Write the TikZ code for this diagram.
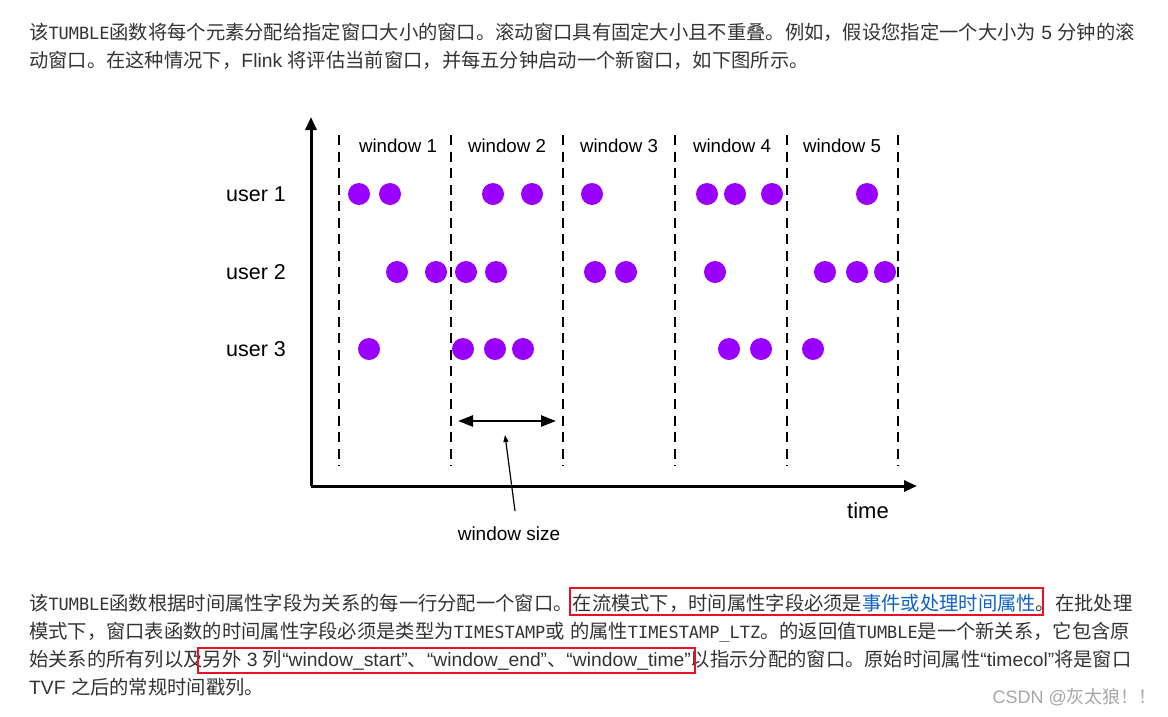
\documentclass[tikz,border=0pt]{standalone}
\usepackage{fontspec}
\setmainfont{Noto Sans CJK SC}
\newfontfamily\lafont{Liberation Sans}
\newfontfamily\monofont{DejaVu Sans Mono}
\usetikzlibrary{arrows.meta,positioning}
\definecolor{bodytext}{HTML}{333333}
\definecolor{dotpurple}{HTML}{9900FF}
\definecolor{markred}{HTML}{E81123}
\definecolor{linkblue}{HTML}{0F62C0}
\newcommand{\la}[1]{{\lafont\fontsize{19.3}{22}\selectfont #1}}
\newcommand{\mo}[1]{{\monofont\fontsize{16.9}{18}\selectfont #1}}
\tikzset{
  para/.style={anchor=base west,inner sep=0pt,text=bodytext,font=\fontsize{19.3}{22}\selectfont},
  chart/.style={inner sep=0pt,font=\lafont\fontsize{18.7}{22}\selectfont},
  event/.style={circle,fill=dotpurple,minimum size=22pt,inner sep=0pt},
  winline/.style={line width=2pt,dash pattern=on 10pt off 6.5pt},
  markbox/.style={draw=markred,line width=2pt},
  bigtip/.style={arrows={-{Stealth[length=13pt,width=11pt,inset=0pt]}}}
}

\begin{document}
\begin{tikzpicture}[x=1pt,y=-1pt,>=Stealth]
  \useasboundingbox (0,0) rectangle (1168,716);
  % Top paragraph
  \node[para] (l1) at (29,39) {该\mo{TUMBLE}函数将每个元素分配给指定窗口大小的窗口。滚动窗口具有固定大小且不重叠。例如，假设您指定一个大小为\la{ 5 }分钟的滚};
  \node[para] (l2) at (29,67) {动窗口。在这种情况下，\la{Flink }将评估当前窗口，并每五分钟启动一个新窗口，如下图所示。};
  % Windows
  \foreach \i/\x in {0/339,1/451,2/563,3/675,4/787,5/898} {
    \coordinate (top\i) at (\x,135);
    \coordinate (bot\i) at (\x,466);
    \draw[winline] (top\i) -- (bot\i);
  }
  \foreach \i/\x in {1/398,2/507,3/619,4/732,5/842} {
    \node[chart] (win\i) at (\x,146) {window \i};
  }
  % Users
  \foreach \i/\y in {1/194,2/272,3/349} {
    \node[chart,font=\lafont\fontsize{21.5}{25}\selectfont] (user\i) at (256,\y) {user \i};
  }
  % Events
  \foreach \x [count=\n] in {359,390,493,532,592,707,735,772,867} {
    \node[event] (ea\n) at (\x,194) {};
  }
  \foreach \x [count=\n] in {397,436,466,496,595,626,715,825,857,885} {
    \node[event] (eb\n) at (\x,272) {};
  }
  \foreach \x [count=\n] in {369,463,495,523,729,761,813} {
    \node[event] (ec\n) at (\x,349) {};
  }
  % Axes
  \coordinate (origin) at (311,486);
  \coordinate (ytip) at (311,117);
  \coordinate (xtip) at (917,486);
  \draw[line width=3pt,bigtip] (origin) -- (ytip);
  \draw[line width=3pt,bigtip] (origin) -- (xtip);
  \node[chart,font=\lafont\fontsize{22}{26}\selectfont] (time) at (868,511) {time};
  % Window size
  \coordinate (sizeL) at (458,421);
  \coordinate (sizeR) at (556,421);
  \draw[line width=2.5pt,arrows={{Stealth[length=15pt,width=11pt,inset=0pt]}-{Stealth[length=15pt,width=11pt,inset=0pt]}}] (sizeL) -- (sizeR);
  \node[chart,font=\lafont\fontsize{19}{22}\selectfont] (wsize) at (509,534) {window size};
  \coordinate (ptrfoot) at (515,511);
  \coordinate (ptrtip) at (505,435);
  \draw[line width=1.2pt,arrows={-{Stealth[length=7pt,width=5pt,inset=0pt]}}] (ptrfoot) -- (ptrtip);
  % Bottom paragraph
  \node[para] (l3) at (29,610) {该\mo{TUMBLE}函数根据时间属性字段为关系的每一行分配一个窗口。在流模式下，时间属性字段必须是\textcolor{linkblue}{事件或处理时间属性}。在批处理};
  \node[para] (l4) at (29,638) {模式下，窗口表函数的时间属性字段必须是类型为\mo{TIMESTAMP}或\la{ }的属性\mo{TIMESTAMP\_LTZ}。的返回值\mo{TUMBLE}是一个新关系，它包含原};
  \node[para] (l5) at (29,666) {始关系的所有列以及另外\la{ 3 }列\la{“window\_start”}、\la{“window\_end”}、\la{“window\_time”}以指示分配的窗口。原始时间属性\la{“timecol”}将是窗口};
  \node[para] (l6) at (29,694) {\la{TVF }之后的常规时间戳列。};
  % Red marks
  \node[markbox,minimum width=473pt,minimum height=27pt,inner sep=0pt] (mark1) at (806.5,601.5) {};
  \node[markbox,minimum width=497pt,minimum height=25pt,inner sep=0pt] (mark2) at (446.5,660.5) {};
  \node[anchor=base east,inner sep=0pt,text=black!35,font=\lafont\fontsize{18}{22}\selectfont] (csdn) at (1157,703) {CSDN @{\fontspec{Noto Sans CJK SC}灰太狼！！}};
\end{tikzpicture}
\end{document}
